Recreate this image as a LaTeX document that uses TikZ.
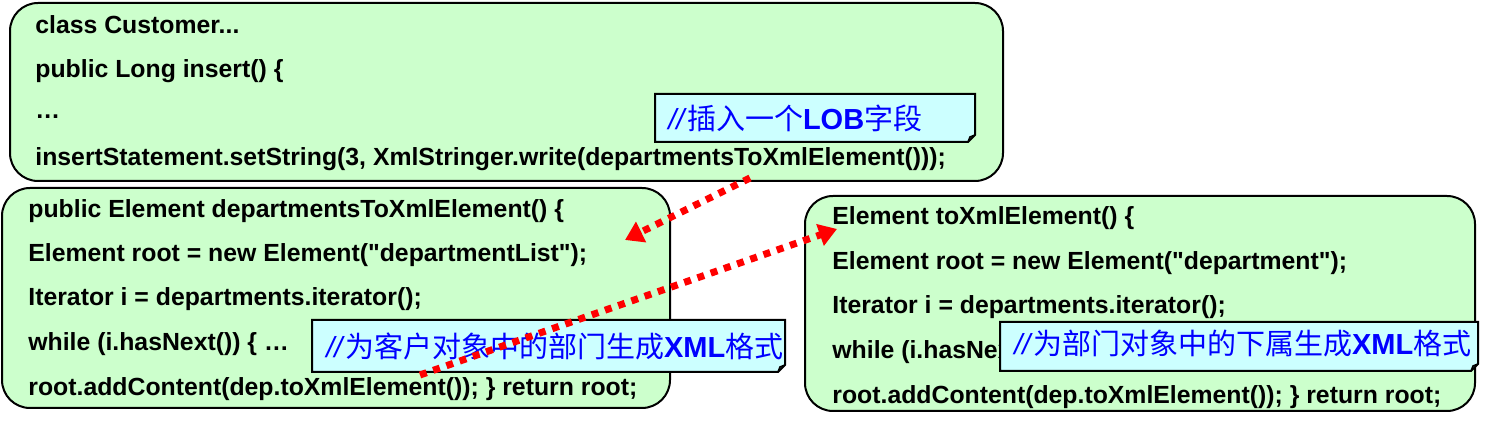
\documentclass[tikz,border=0pt]{standalone}
\usepackage{fontspec}
\setmainfont{Liberation Sans}[Ligatures=TeXOff]
\newfontfamily\cjk{Noto Sans CJK SC}
\usetikzlibrary{positioning}
\usetikzlibrary{arrows.meta}
\definecolor{boxgreen}{HTML}{CCFFCC}
\definecolor{notecyan}{HTML}{CCFFFF}
\tikzset{
  codebox/.style={draw=black, line width=1pt, fill=boxgreen, rounded corners=14pt},
  code/.style={anchor=west, inner sep=0pt, font=\fontsize{12.4}{14}\selectfont\bfseries},
  note/.style={draw=black, line width=1pt, fill=notecyan},
  notetext/.style={anchor=west, inner sep=0pt, text=blue, font=\fontsize{14.5}{16}\selectfont},
  link/.style={red, line width=3.5pt, dash pattern=on 3.5pt off 3.5pt, -{Triangle[length=9pt,width=11pt]}}
}
\newcommand{\notebox}[4]{% x1,y1,x2,y2
  \draw[note] (#1,#2) -- (#3,#2) -- (#3,#4-7) -- (#3-7,#4) -- (#1,#4) -- cycle;
  \draw[line width=0.8pt] (#3,#4-7) -- (#3-5,#4-5) -- (#3-7,#4);
}
\newcommand{\cn}[1]{{\cjk #1}}
\begin{document}
\begin{tikzpicture}[x=0.5pt, y=-0.5pt]
  \useasboundingbox (0,0) rectangle (1494,426);

  % top box
  \draw[codebox] (10,3) rectangle (1003,181);
  \node[code] (t1) at (35,25) {class Customer...};
  \node[code] (t2) at (35,71) {public Long insert() \{};
  \node[code] (t3) at (35,117) {…};
  \node[code] (t4) at (35,159) {insertStatement.setString(3,  XmlStringer.write(departmentsToXmlElement()));};
  \notebox{655}{94}{975}{142}
  \node[notetext] (n1) at (668,118) {\textit{//}\cn{插入一个}\textbf{LOB}\cn{字段}};

  % left box
  \draw[codebox] (2,188) rectangle (670,408);
  \node[code] (l1) at (28,211) {public Element departmentsToXmlElement()  \{};
  \node[code] (l2) at (28,255) {Element root = new Element("departmentList");};
  \node[code] (l3) at (28,299) {Iterator i = departments.iterator();};
  \node[code] (l4) at (28,344) {while (i.hasNext()) \{ …};
  \node[code] (l5) at (28,389) {root.addContent(dep.toXmlElement());  \} return root;};
  \notebox{312}{320}{785}{372}
  \node[notetext] (n2) at (326,346) {\textit{//}\cn{为客户对象中的部门生成}\textbf{XML}\cn{格式}};

  % right box
  \draw[codebox] (805,196) rectangle (1475,411);
  \node[code] (r1) at (832,218) {Element toXmlElement()  \{};
  \node[code] (r2) at (832,263) {Element root = new Element("department");};
  \node[code] (r3) at (832,307) {Iterator i = departments.iterator();};
  \node[code] (r4) at (832,352) {while (i.hasNext()) \{ …};
  \node[code] (r5) at (832,397) {root.addContent(dep.toXmlElement());  \} return root;};
  \notebox{1000}{322}{1478}{371}
  \node[notetext] (n3) at (1014,344) {\textit{//}\cn{为部门对象中的下属生成}\textbf{XML}\cn{格式}};

  % links
  \coordinate (a1) at (750,178);
  \coordinate (a2) at (625,240);
  \coordinate (b1) at (420,375);
  \coordinate (b2) at (837,229);
  \draw[link] (a1) -- (a2);
  \draw[link] (b1) -- (b2);
\end{tikzpicture}
\end{document}
